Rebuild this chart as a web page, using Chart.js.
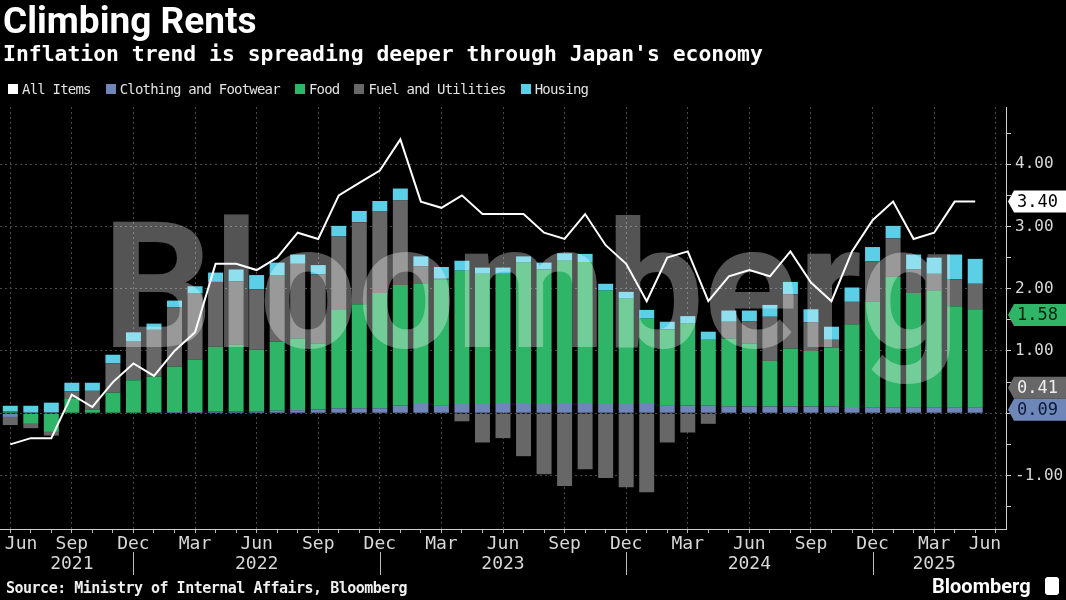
<!DOCTYPE html>
<html>
<head>
<meta charset="utf-8">
<script src="https://cdn.jsdelivr.net/npm/chart.js@4.4.1/dist/chart.umd.min.js"></script>
<style>
  html, body { margin: 0; padding: 0; background: #000; }
  #wrap { position: relative; width: 1066px; height: 600px; overflow: hidden; background: #000; }
  #chart { position: absolute; left: 0; top: 0; }
  .title { position: absolute; left: 3px; top: 0; font: bold 37px Roboto, sans-serif; line-height: 42px; color: #fff; white-space: nowrap; }
  .subtitle { position: absolute; left: 3px; top: 42px; font: bold 21.4px "DejaVu Sans Mono", monospace; line-height: 24px; color: #fff; white-space: nowrap; }
  .legend { position: absolute; left: 8px; top: 80px; display: flex; font: 14px "DejaVu Sans Mono", monospace; letter-spacing: -0.8px; line-height: 18px; color: #e2e2e2; white-space: nowrap; }
  .legend .item { display: flex; align-items: center; margin-right: 15px; }
  .legend i { display: inline-block; width: 10px; height: 10px; margin-right: 4px; }
  .source { position: absolute; left: 6px; top: 579px; font: bold 15px "DejaVu Sans Mono", monospace; letter-spacing: -0.5px; line-height: 18px; color: #eee; white-space: nowrap; }
  .logo { position: absolute; left: 932px; top: 574px; font: bold 20px Roboto, sans-serif; line-height: 24px; color: #fff; }
  .logo-icon { position: absolute; left: 1045px; top: 577px; width: 14px; height: 18px; border-radius: 3px; background: #fff; }
</style>
</head>
<body>
<div id="wrap">
  <canvas id="chart" width="1066" height="600"></canvas>
  <div class="title">Climbing Rents</div>
  <div class="subtitle">Inflation trend is spreading deeper through Japan's economy</div>
  <div class="legend" id="legend"></div>
  <div class="source">Source: Ministry of Internal Affairs, Bloomberg</div>
  <div class="logo">Bloomberg</div>
  <div class="logo-icon"></div>
</div>
<script>
// months on the axis (last slot is empty)
var months = [
    'Jun 2021', 'Jul 2021', 'Aug 2021', 'Sep 2021', 'Oct 2021', 'Nov 2021', 'Dec 2021',
    'Jan 2022', 'Feb 2022', 'Mar 2022', 'Apr 2022', 'May 2022', 'Jun 2022', 'Jul 2022', 'Aug 2022', 'Sep 2022', 'Oct 2022', 'Nov 2022', 'Dec 2022',
    'Jan 2023', 'Feb 2023', 'Mar 2023', 'Apr 2023', 'May 2023', 'Jun 2023', 'Jul 2023', 'Aug 2023', 'Sep 2023', 'Oct 2023', 'Nov 2023', 'Dec 2023',
    'Jan 2024', 'Feb 2024', 'Mar 2024', 'Apr 2024', 'May 2024', 'Jun 2024', 'Jul 2024', 'Aug 2024', 'Sep 2024', 'Oct 2024', 'Nov 2024', 'Dec 2024',
    'Jan 2025', 'Feb 2025', 'Mar 2025', 'Apr 2025', 'May 2025', 'Jun 2025'
];

// y/y % (line) and contributions in pp (bars)
var allItems = [-0.5, -0.4, -0.4, 0.3, 0.1, 0.5, 0.8, 0.6, 1.0, 1.3, 2.4, 2.4, 2.3, 2.5, 2.9, 2.8, 3.5, 3.7, 3.9,
    4.4, 3.4, 3.3, 3.5, 3.2, 3.2, 3.2, 2.9, 2.8, 3.2, 2.7, 2.4, 1.8, 2.5, 2.6, 1.8, 2.2, 2.3, 2.2, 2.6, 2.1, 1.8, 2.6, 3.1,
    3.4, 2.8, 2.9, 3.4, 3.4];
var clothing = [-0.06, 0.01, 0.02, 0.0, 0.0, 0.0, 0.0, 0.01, 0.02, 0.02, 0.03, 0.03, 0.03, 0.04, 0.05, 0.06, 0.08, 0.08, 0.08,
    0.12, 0.15, 0.13, 0.15, 0.15, 0.15, 0.15, 0.15, 0.15, 0.15, 0.15, 0.15, 0.15, 0.13, 0.12, 0.12, 0.11, 0.11, 0.11, 0.11, 0.11, 0.11, 0.10, 0.09,
    0.09, 0.09, 0.09, 0.09, 0.09];
var food = [0.03, -0.17, -0.30, 0.24, 0.06, 0.33, 0.53, 0.58, 0.73, 0.84, 1.04, 1.07, 0.99, 1.11, 1.15, 1.06, 1.58, 1.67, 1.85,
    1.94, 1.94, 2.01, 2.14, 2.09, 2.09, 2.27, 2.16, 2.30, 2.28, 1.82, 1.69, 1.37, 1.22, 1.32, 1.06, 1.09, 1.01, 0.73, 0.93, 0.89, 0.94, 1.33, 1.70,
    2.10, 1.84, 1.88, 1.63, 1.58];
var fuel = [-0.13, -0.07, -0.06, 0.11, 0.30, 0.47, 0.62, 0.75, 0.95, 1.07, 1.04, 1.02, 0.97, 1.07, 1.20, 1.11, 1.18, 1.32, 1.31,
    1.36, 0.27, 0.02, -0.13, -0.47, -0.40, -0.69, -0.98, -1.17, -0.90, -1.04, -1.19, -1.27, -0.47, -0.31, -0.17, 0.27, 0.36, 0.71, 0.87, 0.46, 0.13, 0.36, 0.65,
    0.62, 0.38, 0.27, 0.43, 0.41];
var housing = [0.09, 0.11, 0.15, 0.14, 0.13, 0.14, 0.15, 0.10, 0.11, 0.11, 0.15, 0.19, 0.23, 0.20, 0.15, 0.15, 0.17, 0.18, 0.17,
    0.19, 0.16, 0.19, 0.16, 0.10, 0.10, 0.10, 0.11, 0.12, 0.13, 0.11, 0.11, 0.14, 0.12, 0.12, 0.13, 0.18, 0.17, 0.19, 0.20, 0.21, 0.21, 0.23, 0.23,
    0.20, 0.24, 0.26, 0.40, 0.40];

var series = [
    { label: 'All Items', data: allItems, color: '#ffffff', tagText: '#000000', tag: true },
    { label: 'Clothing and Footwear', data: clothing, color: '#6f86b9', tagText: '#0c1a3a', tag: true },
    { label: 'Food', data: food, color: '#2fb567', tagText: '#06210f', tag: true },
    { label: 'Fuel and Utilities', data: fuel, color: '#676767', tagText: '#eeeeee', tag: true },
    { label: 'Housing', data: housing, color: '#5acfe6', tagText: '#000000', tag: false }
];

// html legend
var legendEl = document.getElementById('legend');
series.forEach(function (s) {
    var item = document.createElement('span');
    item.className = 'item';
    item.innerHTML = '<i style="background:' + s.color + '"></i>' + s.label;
    legendEl.appendChild(item);
});

function isHalfStep(v) { return Math.abs(v * 2 - Math.round(v * 2)) < 1e-6; }
function isWhole(v) { return Math.abs(v - Math.round(v)) < 1e-6; }

// big translucent watermark, drawn under the line but over the bars
var watermark = {
    id: 'watermark',
    beforeDatasetDraw: function (chart, args) {
        if (args.index !== 0) return;
        var ctx = chart.ctx;
        ctx.save();
        ctx.font = 'bold 176px Roboto';
        var m = ctx.measureText('Bloomberg');
        var inkW = m.actualBoundingBoxLeft + m.actualBoundingBoxRight;
        ctx.translate(113, 347);
        ctx.scale(837 / inkW, 1);
        ctx.fillStyle = 'rgba(255,255,255,0.33)';
        ctx.fillText('Bloomberg', m.actualBoundingBoxLeft, 0);
        ctx.restore();
    }
};

// second row of the date axis: years + separators
var yearRow = {
    id: 'yearRow',
    afterDraw: function (chart) {
        var ctx = chart.ctx, xs = chart.scales.x;
        var years = {};
        var order = [];
        months.forEach(function (m, i) {
            var y = m.split(' ')[1];
            if (!years[y]) { years[y] = []; order.push(y); }
            years[y].push(i);
        });
        ctx.save();
        ctx.font = '18px "DejaVu Sans Mono"';
        ctx.fillStyle = '#d8d8d8';
        ctx.textAlign = 'center';
        ctx.textBaseline = 'middle';
        ctx.strokeStyle = '#bbbbbb';
        ctx.lineWidth = 1;
        order.forEach(function (y, k) {
            var idx = years[y];
            var mid = Math.floor((idx[0] + idx[idx.length - 1]) / 2);
            ctx.fillText(y, xs.getPixelForValue(mid), 564);
            if (k < order.length - 1) {
                var sx = Math.round(xs.getPixelForValue(idx[idx.length - 1])) + 0.5;
                ctx.beginPath();
                ctx.moveTo(sx, 552);
                ctx.lineTo(sx, 575);
                ctx.stroke();
            }
        });
        ctx.restore();
    }
};

// last-value tags on the right axis
var lastTags = {
    id: 'lastTags',
    afterDraw: function (chart) {
        var ctx = chart.ctx, ys = chart.scales.y, area = chart.chartArea;
        var tags = [];
        series.forEach(function (s) {
            if (!s.tag) return;
            var v = s.data[s.data.length - 1];
            tags.push({ v: v, y: ys.getPixelForValue(v), bg: s.color, fg: s.tagText });
        });
        tags.sort(function (a, b) { return a.y - b.y; });
        var h = 22;
        for (var i = 1; i < tags.length; i++) {
            if (tags[i].y - tags[i - 1].y < h) tags[i].y = tags[i - 1].y + h;
        }
        ctx.save();
        ctx.font = '17px "DejaVu Sans Mono"';
        ctx.textBaseline = 'middle';
        ctx.textAlign = 'left';
        tags.forEach(function (t) {
            var x0 = area.right + 2, x1 = area.right + 8, x2 = chart.width;
            ctx.fillStyle = t.bg;
            ctx.beginPath();
            ctx.moveTo(x0, t.y);
            ctx.lineTo(x1, t.y - h / 2);
            ctx.lineTo(x2, t.y - h / 2);
            ctx.lineTo(x2, t.y + h / 2);
            ctx.lineTo(x1, t.y + h / 2);
            ctx.closePath();
            ctx.fill();
            ctx.fillStyle = t.fg;
            ctx.fillText(t.v.toFixed(2), area.right + 11, t.y + 1);
        });
        ctx.restore();
    }
};

window.onload = function () {
    Chart.defaults.font.family = '"DejaVu Sans Mono", monospace';
    Chart.defaults.color = '#d8d8d8';

    var datasets = [{
        type: 'line',
        label: series[0].label,
        data: series[0].data,
        borderColor: series[0].color,
        backgroundColor: series[0].color,
        borderWidth: 2,
        pointRadius: 0,
        tension: 0,
        stack: 'line',
        order: 0
    }];
    series.slice(1).forEach(function (s) {
        datasets.push({
            type: 'bar',
            label: s.label,
            data: s.data,
            backgroundColor: s.color,
            borderWidth: 0,
            barPercentage: 0.73,
            categoryPercentage: 1,
            stack: 'cpi',
            order: 1
        });
    });

    var ctx = document.getElementById('chart').getContext('2d');
    var chart = new Chart(ctx, {
        data: { labels: months, datasets: datasets },
        options: {
            responsive: false,
            animation: false,
            layout: { padding: { top: 107, left: 0, right: 0, bottom: 0 } },
            plugins: {
                legend: { display: false },
                tooltip: { enabled: false }
            },
            scales: {
                x: {
                    stacked: true,
                    offset: true,
                    grid: {
                        offset: false,
                        color: function (c) { return c.index % 3 === 0 ? '#4a4a4a' : 'rgba(0,0,0,0)'; },
                        tickColor: '#bbbbbb',
                        tickLength: 4
                    },
                    border: { color: '#cfcfcf', dash: [2, 3] },
                    ticks: {
                        autoSkip: false,
                        maxRotation: 0,
                        minRotation: 0,
                        padding: 1,
                        color: '#d8d8d8',
                        font: { size: 18 },
                        callback: function (value, index) {
                            if (index % 3 !== 0) return '';
                            var m = months[index].split(' ')[0];
                            if (index === 0) return '  ' + m;
                            if (index === months.length - 1) return m + '  ';
                            return m;
                        }
                    },
                    afterFit: function (s) { s.height = 71; s.paddingLeft = 0; s.paddingRight = 0; }
                },
                y: {
                    position: 'right',
                    stacked: true,
                    min: -1.86,
                    max: 4.92,
                    grid: {
                        color: function (c) { return isWhole(c.tick.value) ? '#4a4a4a' : 'rgba(0,0,0,0)'; },
                        tickColor: function (c) { return isHalfStep(c.tick.value) ? '#cfcfcf' : 'rgba(0,0,0,0)'; },
                        tickLength: 5
                    },
                    border: { color: '#cfcfcf', dash: [2, 3] },
                    ticks: {
                        stepSize: 0.5,
                        autoSkip: false,
                        padding: 4,
                        color: '#d8d8d8',
                        font: { size: 16 },
                        callback: function (v) {
                            if (!isWhole(v) || Math.abs(v) < 1e-6) return '';
                            return Number(v).toFixed(2);
                        }
                    },
                    afterFit: function (s) { s.width = 60; s.paddingTop = 0; s.paddingBottom = 0; }
                }
            }
        },
        plugins: [watermark, yearRow, lastTags]
    });
};
</script>
</body>
</html>
